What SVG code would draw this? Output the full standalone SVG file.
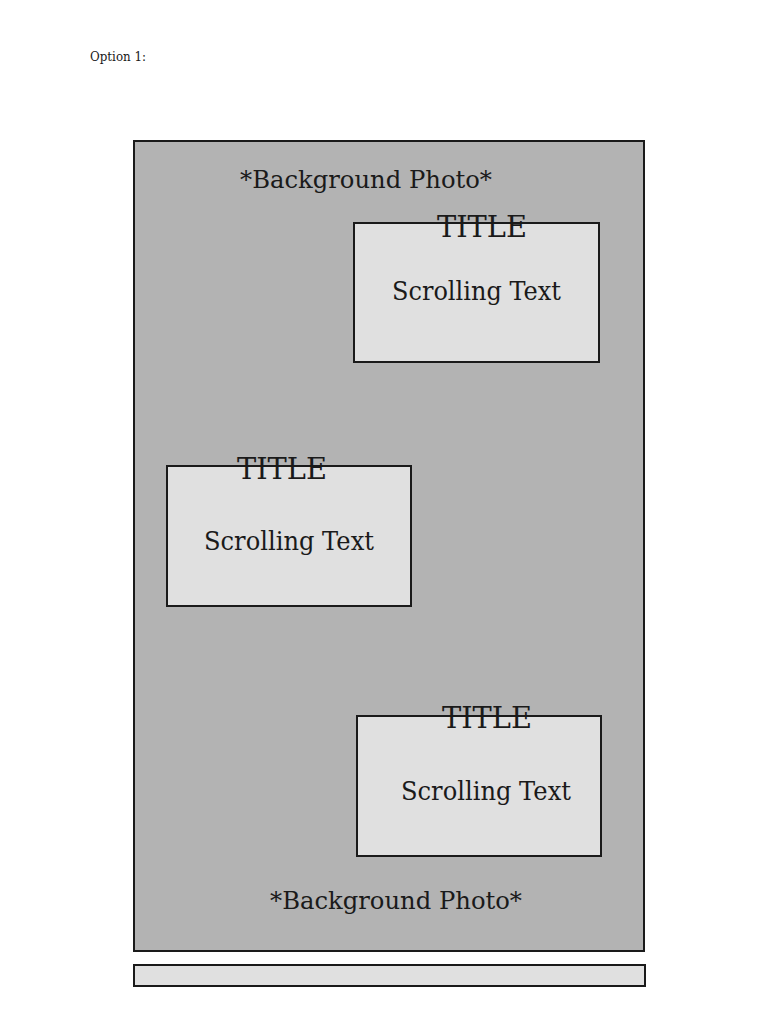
<svg xmlns="http://www.w3.org/2000/svg" width="768" height="1024" viewBox="0 0 768 1024">
<style>
.bg{fill:#b3b3b3;stroke:#1a1a1a;stroke-width:2}
.box{fill:#e0e0e0;stroke:#1a1a1a;stroke-width:2}
.t{font-family:"DejaVu Serif","Liberation Serif",serif;fill:#1a1a1a}
.title{font-size:30px}
.scroll{font-size:26px}
.photo{font-size:25px}
</style>
<rect width="768" height="1024" fill="#ffffff"/>
<text class="t" x="90" y="61" font-size="13" font-family="Liberation Serif,serif" textLength="56" lengthAdjust="spacingAndGlyphs">Option 1:</text>
<g id="background">
<rect class="bg" x="134" y="141" width="510" height="810"/>
<text class="t photo" x="240" y="188" textLength="252" lengthAdjust="spacingAndGlyphs">*Background Photo*</text>
<text class="t photo" x="270" y="909" textLength="252" lengthAdjust="spacingAndGlyphs">*Background Photo*</text>
</g>
<g id="box1">
<rect class="box" x="354" y="223" width="245" height="139"/>
<text class="t title" x="437" y="237" textLength="90" lengthAdjust="spacingAndGlyphs">TITLE</text>
<text class="t scroll" x="392" y="300" textLength="169" lengthAdjust="spacingAndGlyphs">Scrolling Text</text>
</g>
<g id="box2">
<rect class="box" x="167" y="466" width="244" height="140"/>
<text class="t title" x="237" y="479" textLength="90" lengthAdjust="spacingAndGlyphs">TITLE</text>
<text class="t scroll" x="204" y="550" textLength="170" lengthAdjust="spacingAndGlyphs">Scrolling Text</text>
</g>
<g id="box3">
<rect class="box" x="357" y="716" width="244" height="140"/>
<text class="t title" x="442" y="728" textLength="90" lengthAdjust="spacingAndGlyphs">TITLE</text>
<text class="t scroll" x="401" y="800" textLength="170" lengthAdjust="spacingAndGlyphs">Scrolling Text</text>
</g>
<g id="bar">
<rect class="box" x="134" y="965" width="511" height="21"/>
</g>
</svg>
